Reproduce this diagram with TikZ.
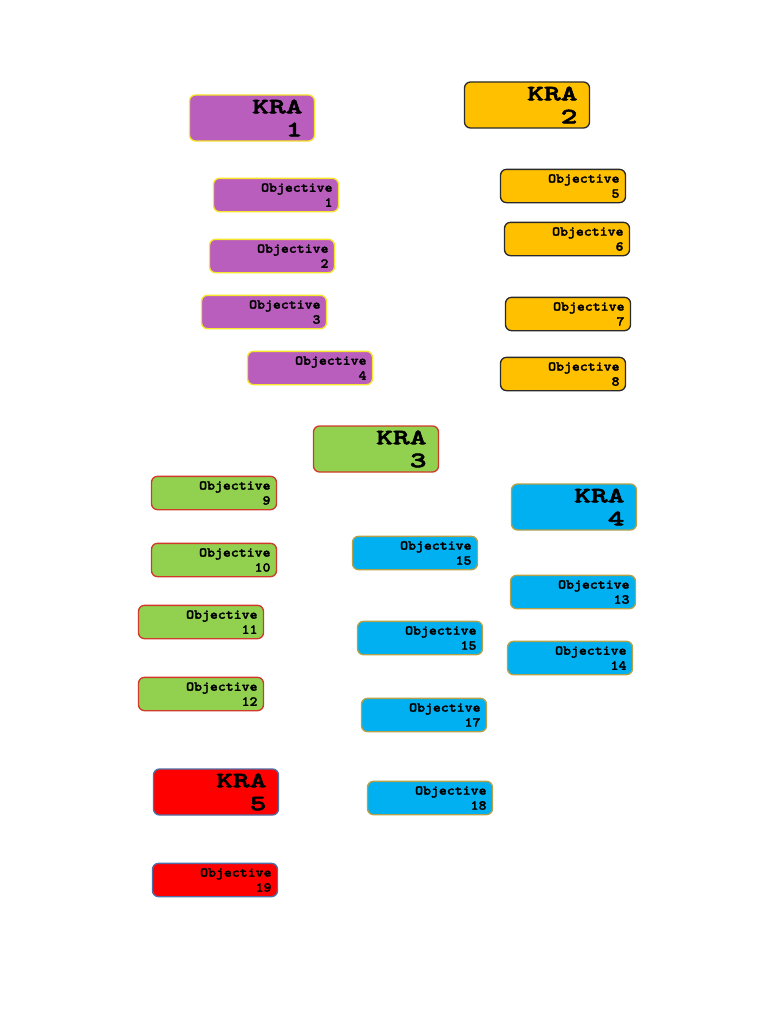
\documentclass[tikz,border=0pt]{standalone}
\usepackage{fontspec}
\newfontfamily\krafont[FakeStretch=1.45, FakeBold=2.5]{lmmonolt10-bold.otf}
\newfontfamily\objfont[FakeStretch=1.1, FakeBold=1.8]{lmmonolt10-bold.otf}
\usepackage{tikz}

% box colours
\definecolor{kpurple}{HTML}{BA5EBE}
\definecolor{korange}{HTML}{FFC000}
\definecolor{kgreen}{HTML}{92D050}
\definecolor{kblue}{HTML}{00B0F0}
\definecolor{kred}{HTML}{FF0000}
\definecolor{byellow}{HTML}{F5E62A}
\definecolor{bdark}{HTML}{2A2A2A}
\definecolor{bred}{HTML}{D03A2A}
\definecolor{bolive}{HTML}{B5A14A}
\definecolor{bsteel}{HTML}{4F6FA8}

\tikzset{
	box/.style={rounded corners=4.5pt, line width=1pt, align=right, inner ysep=0pt},
	krabox/.style={box, minimum width=93.75pt, minimum height=34.5pt, inner xsep=9pt, text width=75.75pt, font=\krafont\fontsize{16.5}{17.25}\selectfont},
	objbox/.style={box, minimum width=93.75pt, minimum height=25pt, inner xsep=4.5pt, text width=84.75pt, font=\objfont\fontsize{10.3}{11.25}\selectfont},
	purplebox/.style={fill=kpurple, draw=byellow},
	orangebox/.style={fill=korange, draw=bdark},
	greenbox/.style={fill=kgreen, draw=bred},
	bluebox/.style={fill=kblue, draw=bolive},
	redbox/.style={fill=kred, draw=bsteel}
}

\begin{document}
\begin{tikzpicture}[x=0.75pt, y=-0.75pt]
		\useasboundingbox (0,0) rectangle (768,1024);

		% KRA 1
		\node[krabox, purplebox] (kra1) at (252,118) {KRA\\1};
		\foreach \n/\x/\y in {1/276/195, 2/272/256, 3/264/312, 4/310/368} {
				\node[objbox, purplebox] (obj\n) at (\x,\y) {Objective\\\n};
			}

		% KRA 2
		\node[krabox, orangebox] (kra2) at (527,105) {KRA\\2};
		\foreach \n/\x/\y in {5/563/186, 6/567/239, 7/568/314, 8/563/374} {
				\node[objbox, orangebox] (obj\n) at (\x,\y) {Objective\\\n};
			}

		% KRA 3
		\node[krabox, greenbox] (kra3) at (376,449) {KRA\\3};
		\foreach \n/\x/\y in {9/214/493, 10/214/560, 11/201/622, 12/201/694} {
				\node[objbox, greenbox] (obj\n) at (\x,\y) {Objective\\\n};
			}

		% KRA 4
		\node[krabox, bluebox] (kra4) at (574,507) {KRA\\4};
		\node[objbox, bluebox] (obj15a) at (415,553) {Objective\\15};
		\node[objbox, bluebox] (obj13) at (573,592) {Objective\\13};
		\node[objbox, bluebox] (obj15b) at (420,638) {Objective\\15};
		\node[objbox, bluebox] (obj14) at (570,658) {Objective\\14};
		\node[objbox, bluebox] (obj17) at (424,715) {Objective\\17};
		\node[objbox, bluebox] (obj18) at (430,798) {Objective\\18};

		% KRA 5
		\node[krabox, redbox] (kra5) at (216,792) {KRA\\5};
		\node[objbox, redbox] (obj19) at (215,880) {Objective\\19};
	\end{tikzpicture}
\end{document}
